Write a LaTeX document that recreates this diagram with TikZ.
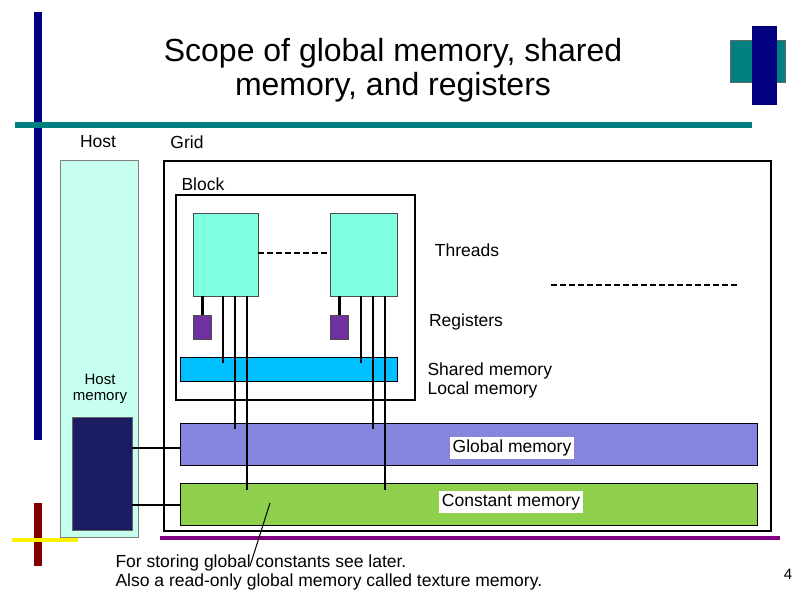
\documentclass[tikz,border=0pt]{standalone}
\usepackage{fontspec}
\setmainfont{Liberation Sans}
\begin{document}
\begin{tikzpicture}[x=1pt,y=-1pt,
  lbl/.style={font=\fontsize{17.5}{19}\selectfont},
  small/.style={font=\fontsize{15}{16}\selectfont,align=center},
  wire/.style={line width=1.5pt},
  box/.style={draw=black,line width=1.8pt},
  mem/.style={draw=black,line width=0.8pt},
  tag/.style={fill=white,font=\fontsize{17.5}{19}\selectfont,inner sep=3pt}]
\definecolor{aquamarine}{RGB}{128,255,224}
\definecolor{navyb}{RGB}{0,0,128}
\definecolor{tealb}{RGB}{0,128,128}
\definecolor{hostc}{RGB}{198,255,240}
\definecolor{hostm}{RGB}{28,28,100}
\definecolor{shm}{RGB}{0,191,255}
\definecolor{glob}{RGB}{133,133,221}
\definecolor{cons}{RGB}{142,208,76}
\definecolor{reg}{RGB}{112,48,160}
\definecolor{purp}{RGB}{128,0,128}
\definecolor{dred}{RGB}{128,0,0}
\useasboundingbox (0,0) rectangle (794,595);
\fill[white] (0,0) rectangle (794,595);
% decorations
\fill[navyb] (34,12) rectangle (42,440);
\fill[tealb] (15,122) rectangle (752,128);
\fill[tealb,draw=black!60] (730,40) rectangle (785,82);
\fill[navyb] (752,26) rectangle (777,105);
\fill[dred] (34,503) rectangle (42,566);
\fill[yellow] (12,538) rectangle (78,542);
\fill[purp] (160,536) rectangle (780,540);
% title
\node (title) at (393,70) [font=\fontsize{32}{34}\selectfont,align=center] {Scope of global memory, shared\\memory, and registers};
\node[lbl] (host) at (98,142) {Host};
\node[lbl] (grid) at (187,142) {Grid};
% host
\node[draw=black!50,fill=hostc,minimum width=78,minimum height=377,inner sep=0,anchor=north west] (hostbox) at (60,160) {};
\node[small] (hostmem) at (100,389) {Host\\memory};
\node[draw=black!60,fill=hostm,minimum width=60,minimum height=113,inner sep=0,anchor=north west] (hm) at (72,417) {};
% grid and block
\node[box,minimum width=607,minimum height=370,inner sep=0,anchor=north west] (gridbox) at (163,160) {};
\node[lbl,anchor=west] (block) at (178,184) {Block};
\node[box,minimum width=239,minimum height=205,inner sep=0,anchor=north west] (blockbox) at (175,194) {};
% threads
\node[draw=black!70,fill=aquamarine,minimum width=65,minimum height=83,inner sep=0,anchor=north west] (t1) at (193,213) {};
\node[draw=black!70,fill=aquamarine,minimum width=67,minimum height=83,inner sep=0,anchor=north west] (t2) at (330,213) {};
\draw[line width=1.5pt,dash pattern=on 6pt off 3pt] (t1.east |- 0,253) -- (t2.west |- 0,253);
\node[lbl] (threads) at (467,250) {Threads};
\coordinate (d1) at (551,285); \coordinate (d2) at (738,285);
\draw[line width=1.5pt,dash pattern=on 6pt off 3pt] (d1) -- (d2);
\node[lbl] (regs) at (466,322) {Registers};
% registers
\node[draw=black!70,fill=reg,minimum width=18,minimum height=24,inner sep=0,anchor=north west] (r1) at (193,315) {};
\node[draw=black!70,fill=reg,minimum width=18,minimum height=24,inner sep=0,anchor=north west] (r2) at (330,315) {};
% memories
\node[mem,fill=shm,minimum width=217,minimum height=24,inner sep=0,anchor=north west] (sh) at (180,357) {};
\node[lbl,anchor=west,align=left] (shl) at (424,380) {Shared memory\\Local memory};
\node[mem,fill=glob,minimum width=577,minimum height=42,inner sep=0,anchor=north west] (gl) at (180,423) {};
\node[mem,fill=cons,minimum width=577,minimum height=42,inner sep=0,anchor=north west] (co) at (180,483) {};
\node[tag] (gll) at (512,448) {Global memory};
\node[tag] (col) at (511,502) {Constant memory};
% wires
\draw[line width=3pt] (r1.north) -- (r1.north |- t1.south);
\draw[line width=3pt] (r2.north) -- (r2.north |- t2.south);
\draw[wire] (223,296) -- (223,363);
\draw[wire] (235,296) -- (235,429);
\draw[wire] (247,296) -- (247,490);
\draw[wire] (361,296) -- (361,363);
\draw[wire] (373,296) -- (373,429);
\draw[wire] (385,296) -- (385,490);
\draw[wire] (hm.east |- 0,448) -- (gl.west |- 0,448);
\draw[wire] (hm.east |- 0,505) -- (co.west |- 0,505);
% note
\coordinate (p1) at (270,503); \coordinate (p2) at (250,566);
\draw[line width=1pt] (p1) -- (p2);
\node[lbl,anchor=west,align=left] (note) at (112,572) {For storing global constants see later.\\Also a read-only global memory called texture memory.};
\node[font=\fontsize{15}{16}\selectfont] (pg) at (788,574) {4};
\end{tikzpicture}
\end{document}
